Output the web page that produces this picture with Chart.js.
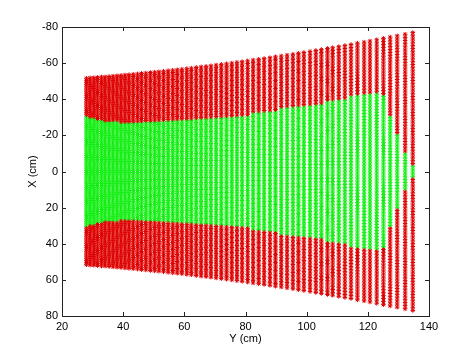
<!DOCTYPE html>
<html>
<head>
<meta charset="utf-8">
<script src="https://cdn.jsdelivr.net/npm/chart.js@4.4.0/dist/chart.umd.min.js"></script>
<style>
  html, body { margin: 0; padding: 0; background: #fff; }
  #wrap { width: 474px; height: 355px; }
</style>
</head>
<body>
<div id="wrap"><canvas id="myChart"></canvas></div>
<script>
// column positions along Y (cm)
const columnY = [28.0, 29.2, 30.4, 31.6, 32.9, 34.1, 35.4, 36.7, 38.0, 39.3, 40.6, 41.9, 43.3, 44.7,
  46.0, 47.4, 48.9, 50.3, 51.7, 53.2, 54.7, 56.2, 57.7, 59.2, 60.8, 62.3, 63.9, 65.5, 67.1, 68.7,
  70.4, 72.1, 73.8, 75.5, 77.2, 78.9, 80.7, 82.5, 84.3, 86.1, 88.0, 89.8, 91.7, 93.6, 95.5, 97.3,
  99.1, 101.1, 103.0, 104.8, 106.8, 108.5, 110.5, 112.5, 114.5, 116.6, 118.8, 120.7, 122.9, 125.1,
  127.3, 129.6, 132.2, 134.7]
// outer half width of each column, X (cm)
const outerHalf = [51.6, 51.8, 51.9, 52.1, 52.3, 52.4, 52.6, 52.8, 53.0, 53.2, 53.4, 53.6, 53.8, 54.0,
  54.3, 54.5, 54.8, 55.0, 55.2, 55.5, 55.8, 56.1, 56.3, 56.6, 56.9, 57.2, 57.6, 57.9, 58.2, 58.5,
  58.9, 59.3, 59.6, 60.0, 60.4, 60.8, 61.2, 61.7, 62.1, 62.5, 63.0, 63.5, 63.9, 64.4, 64.9, 65.4,
  65.9, 66.4, 67.0, 67.5, 68.1, 68.5, 69.1, 69.7, 70.3, 71.0, 71.6, 72.2, 72.9, 73.7,
  74.4, 75.1, 76.0, 76.9]
// half width of the green (inner) part of each column, X (cm)
const greenHalf = [30.7, 30.0, 29.4, 28.9, 28.6, 28.3, 28.0, 27.8, 27.5, 27.3, 27.2, 27.3, 27.5, 27.8,
  28.0, 28.1, 28.3, 28.4, 28.5, 28.6, 28.8, 28.9, 29.0, 29.1, 29.3, 29.4, 29.4, 29.5, 29.7, 29.9,
  30.0, 30.1, 30.2, 30.3, 30.4, 30.8, 31.4, 32.0, 32.7, 33.4, 34.0, 34.3, 34.6, 35.0, 35.4, 35.8,
  36.1, 36.5, 36.8, 37.8, 38.8, 39.6, 40.3, 40.8, 41.3, 41.8, 42.4, 43.0, 43.6, 43.0,
  30.5, 20.2, 11.0, 3.0]
const pointsPerColumn = 88

const xTicks = [20, 40, 60, 80, 100, 120, 140]
const yTicks = [-80, -60, -40, -20, 0, 20, 40, 60, 80]

let redPts = []
let greenPts = []
for (let c = 0; c < columnY.length; c++) {
  const h = outerHalf[c]
  for (let i = 0; i < pointsPerColumn; i++) {
    const x = -h + (2 * h * i) / (pointsPerColumn - 1)
    if (Math.abs(x) <= greenHalf[c]) greenPts.push({x: columnY[c], y: x})
    else redPts.push({x: columnY[c], y: x})
  }
}

// box + inward ticks like the original figure
const boxTicks = {
  id: "boxTicks",
  afterDraw(chart) {
    const ctx = chart.ctx
    const a = chart.chartArea
    const sx = chart.scales.x, sy = chart.scales.y
    ctx.save()
    ctx.strokeStyle = "#222"
    ctx.lineWidth = 1
    ctx.strokeRect(Math.round(a.left) + 0.5, Math.round(a.top) + 0.5,
      Math.round(a.right - a.left), Math.round(a.bottom - a.top))
    ctx.beginPath()
    for (const v of xTicks) {
      const px = Math.round(sx.getPixelForValue(v)) + 0.5
      ctx.moveTo(px, a.bottom); ctx.lineTo(px, a.bottom - 4)
      ctx.moveTo(px, a.top); ctx.lineTo(px, a.top + 4)
    }
    for (const v of yTicks) {
      const py = Math.round(sy.getPixelForValue(v)) + 0.5
      ctx.moveTo(a.left, py); ctx.lineTo(a.left + 4, py)
      ctx.moveTo(a.right, py); ctx.lineTo(a.right - 4, py)
    }
    ctx.stroke()
    ctx.restore()
  }
}

const font = {family: "'Liberation Sans', Arial, sans-serif", size: 11}

let htmlChart = document.getElementById("myChart")
let chart = new Chart(htmlChart, {
  type: "scatter",
  data: {
    datasets: [
      {
        label: "outside",
        data: redPts,
        pointStyle: "star",
        pointRadius: 2.3,
        borderWidth: 1,
        borderColor: "rgb(222, 0, 0)",
        backgroundColor: "rgb(222, 0, 0)",
      },
      {
        label: "inside",
        data: greenPts,
        pointStyle: "star",
        pointRadius: 2.3,
        borderWidth: 1,
        borderColor: "rgb(20, 238, 20)",
        backgroundColor: "rgb(20, 238, 20)",
      }
    ]
  },
  options: {
    responsive: true,
    maintainAspectRatio: false,
    animation: false,
    events: [],
    layout: {padding: {top: 27, right: 45, left: 0, bottom: 0}},
    plugins: {
      legend: {display: false},
      tooltip: {enabled: false}
    },
    scales: {
      x: {
        type: "linear",
        min: 20,
        max: 140,
        afterFit(s) { s.height = 39 },
        afterBuildTicks(s) { s.ticks = xTicks.map(v => ({value: v})) },
        grid: {display: false, drawTicks: false},
        border: {display: false},
        ticks: {color: "#000", font: font, padding: 4, maxRotation: 0},
        title: {display: true, text: "Y (cm)", color: "#000", font: font, padding: {top: 0, bottom: 9}}
      },
      y: {
        type: "linear",
        min: -80,
        max: 80,
        reverse: true,
        afterFit(s) { s.width = 62 },
        afterBuildTicks(s) { s.ticks = yTicks.map(v => ({value: v})) },
        grid: {display: false, drawTicks: false},
        border: {display: false},
        ticks: {color: "#000", font: font, padding: 4},
        title: {display: true, text: "X (cm)", color: "#000", font: font, padding: {top: 26, bottom: 0}}
      }
    }
  },
  plugins: [boxTicks]
})
</script>
</body>
</html>
